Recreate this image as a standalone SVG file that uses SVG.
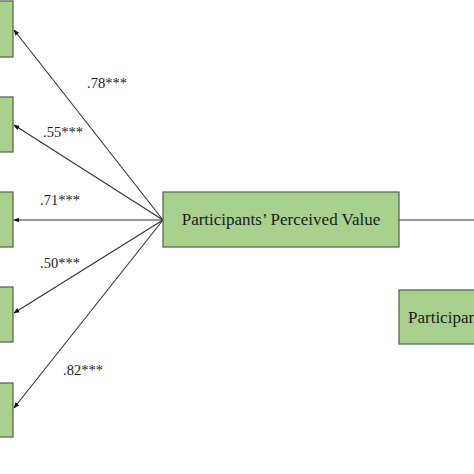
<svg xmlns="http://www.w3.org/2000/svg" width="474" height="474" viewBox="0 0 474 474">
<style>
.box{fill:#a9d18e;stroke:#4f5e48;stroke-width:1.2}
.lbl{font-family:"Liberation Serif",serif;font-size:14.5px;fill:#222}
.txt{font-family:"Liberation Serif",serif;font-size:17px;fill:#1a1a1a}
.ln{stroke:#333;stroke-width:1.1;fill:none}
</style>
<defs>
<marker id="ah" viewBox="0 0 10 10" refX="9" refY="5" markerWidth="6" markerHeight="6" orient="auto" markerUnits="userSpaceOnUse">
<path d="M0,1 L10,5 L0,9 z" fill="#111"/>
</marker>
</defs>
<rect width="474" height="474" fill="#fff"/>
<g id="connectors">
<line class="ln" x1="163" y1="220" x2="14" y2="30" marker-end="url(#ah)"/>
<line class="ln" x1="163" y1="220" x2="14" y2="125" marker-end="url(#ah)"/>
<line class="ln" x1="163" y1="220" x2="14" y2="220" marker-end="url(#ah)"/>
<line class="ln" x1="163" y1="220" x2="14" y2="313" marker-end="url(#ah)"/>
<line class="ln" x1="163" y1="220" x2="14" y2="408" marker-end="url(#ah)"/>
<line class="ln" x1="399" y1="220" x2="474" y2="220"/>
<text class="lbl" x="87" y="88">.78***</text>
<text class="lbl" x="43" y="137">.55***</text>
<text class="lbl" x="40" y="205">.71***</text>
<text class="lbl" x="40" y="268">.50***</text>
<text class="lbl" x="63" y="375">.82***</text>
</g>
<g id="ind1"><rect class="box" x="-10" y="1" width="23" height="56"/></g>
<g id="ind2"><rect class="box" x="-10" y="97" width="23" height="55"/></g>
<g id="ind3"><rect class="box" x="-10" y="192" width="23" height="55"/></g>
<g id="ind4"><rect class="box" x="-10" y="287" width="23" height="55"/></g>
<g id="ind5"><rect class="box" x="-10" y="383" width="23" height="54"/></g>
<g id="ppv">
<rect class="box" x="163" y="192" width="236" height="55"/>
<text class="txt" x="281" y="225" text-anchor="middle">Participants’ Perceived Value</text>
</g>
<g id="part2">
<rect class="box" x="399" y="290" width="90" height="54"/>
<text class="txt" x="408" y="323">Participants’</text>
</g>
</svg>
